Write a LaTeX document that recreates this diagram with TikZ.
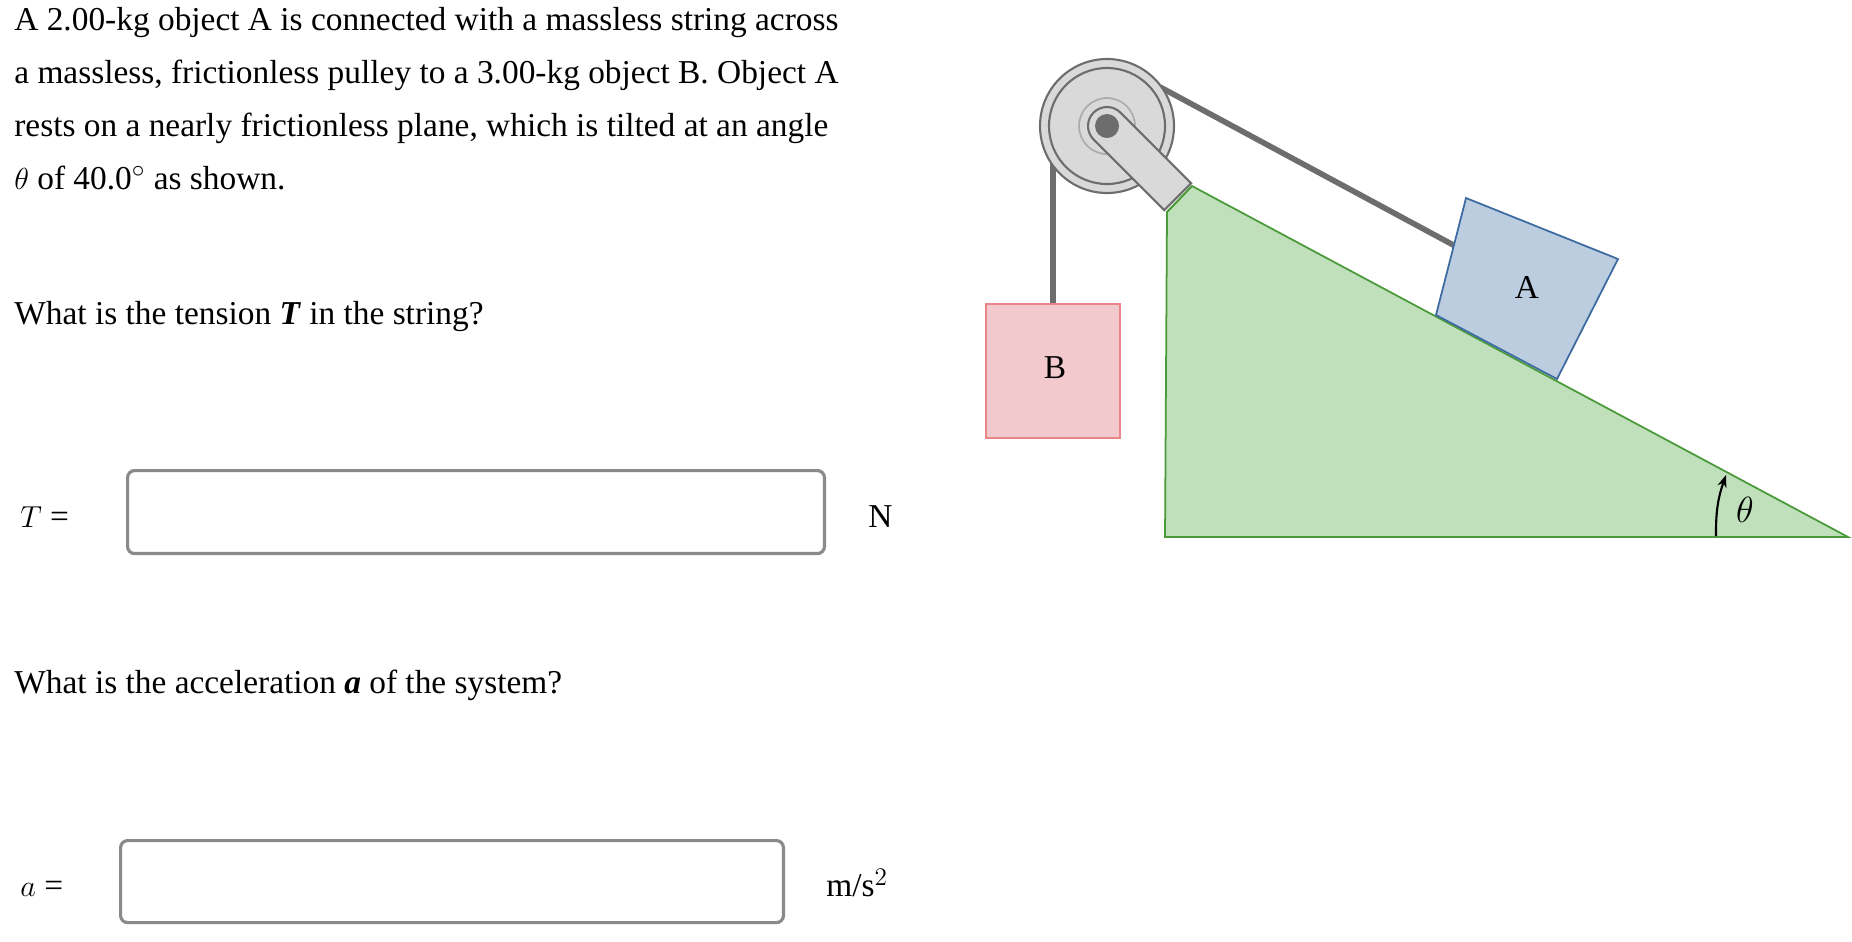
\documentclass[tikz,border=0pt]{standalone}
\usepackage{fontspec}
\setmainfont{Liberation Serif}
\usetikzlibrary{arrows.meta}
\definecolor{gfill}{HTML}{BFE0BB}
\definecolor{gline}{HTML}{4A9A3A}
\definecolor{afill}{HTML}{BCCDE0}
\definecolor{aline}{HTML}{3D6AA0}
\definecolor{bfill}{HTML}{F2CACD}
\definecolor{bline}{HTML}{E8868A}
\definecolor{dgray}{HTML}{6D6D6D}
\definecolor{pfill}{HTML}{D9D9D9}
\definecolor{boxc}{HTML}{8A8A8A}
\begin{document}
\begin{tikzpicture}[x=0.02cm,y=-0.02cm,
  txt/.style={anchor=base west,inner sep=0,font=\fontsize{19}{23}\selectfont},
  ansbox/.style={draw=boxc,line width=1.8pt,rounded corners=4pt},
  str/.style={draw=dgray,line width=3.2pt}]
\useasboundingbox (0,0) rectangle (1852,941);
% text
\node[txt] (l1) at (14,30) {A 2.00-kg object A is connected with a massless string across};
\node[txt] (l2) at (14,83) {a massless, frictionless pulley to a 3.00-kg object B. Object A};
\node[txt] (l3) at (14,136) {rests on a nearly frictionless plane, which is tilted at an angle};
\node[txt] (l4) at (14,189) {$\theta$ of 40.0$^\circ$ as shown.};
\node[txt] (q1) at (14,324) {What is the tension \textit{\textbf{T}} in the string?};
\node[txt] (q2) at (14,693) {What is the acceleration \textit{\textbf{a}} of the system?};
\node[txt] (tl) at (20,527) {$T$ =};
\node[txt] (al) at (20,896) {$a$ =};
\node[ansbox,minimum width=697\pgflinewidth,anchor=north west,inner sep=0,minimum width=13.94cm,minimum height=1.66cm] (tbox) at (126,469) {};
\node[ansbox,anchor=north west,inner sep=0,minimum width=13.26cm,minimum height=1.64cm] (abox) at (119,839) {};
\node[txt] (tu) at (868,527) {N};
\node[txt] (au) at (826,896) {m/s$^2$};
% incline
\coordinate (pc) at (1107,126);
\draw[gline,fill=gfill,line width=1pt] (1167,212) -- (1192,186) -- (1848,537) -- (1165,537) -- cycle;
% strings
\coordinate (sv) at (1053,126);
\coordinate (st) at (1160,87);
\coordinate (sa) at (1470,254);
\draw[str] (st) -- (sa);
\node[draw=bline,fill=bfill,line width=1pt,minimum size=2.68cm,inner sep=0] (B) at (1053,371) {};
\node[font=\fontsize{19}{23}\selectfont] (Bl) at (1055,368) {B};
\draw[str] (sv) -- (B.north);
% block A
\draw[aline,fill=afill,line width=1pt] (1466,198) -- (1618,259) -- (1557,379) -- (1436,315) -- cycle;
\node[font=\fontsize{19}{23}\selectfont] (Al) at (1527,287) {A};
% pulley
\draw[dgray,fill=pfill,line width=1.2pt] (pc) circle[radius=67];
\draw[dgray,line width=1.2pt] (pc) circle[radius=58];
\draw[boxc!70,line width=1pt] (pc) circle[radius=28];
\begin{scope}[shift={(pc)},rotate=-45]
\draw[dgray,fill=pfill,line width=1.2pt] (0,-19) -- (100,-19) -- (100,19) -- (0,19) arc[start angle=90,end angle=270,radius=19] -- cycle;
\end{scope}
\draw[gline,line width=1pt] (1167,212) -- (1192,186);
\fill[dgray] (pc) circle[radius=12];
% angle
\coordinate (th1) at (1716,536);
\coordinate (th2) at (1726,475);
\draw[-{Stealth[length=7pt]},line width=1.2pt] (th1) to[bend left=10] (th2);
\node[font=\fontsize{21}{23}\selectfont] (thl) at (1745,510) {$\theta$};
\end{tikzpicture}
\end{document}
